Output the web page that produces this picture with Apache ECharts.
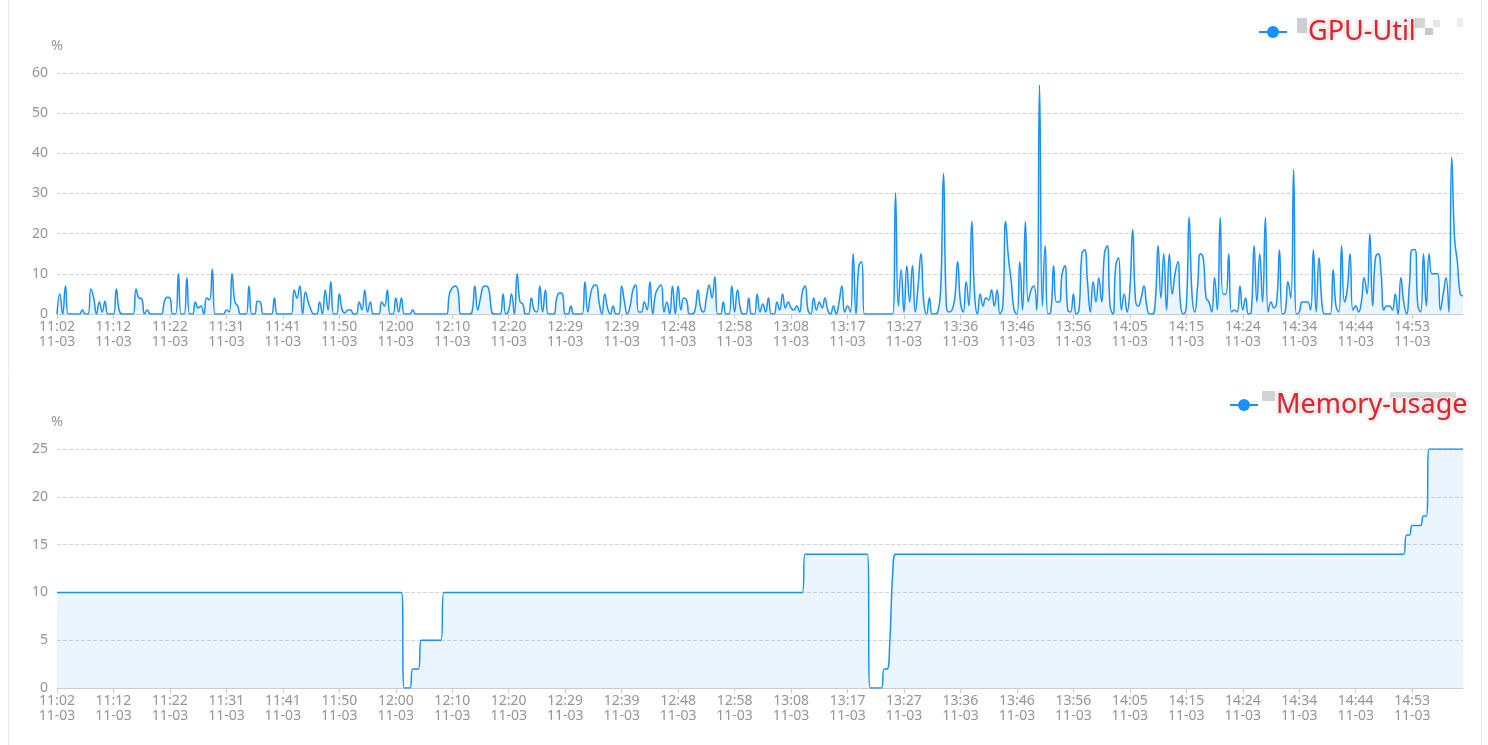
<!DOCTYPE html>
<html><head><meta charset="utf-8">
<script src="https://cdn.jsdelivr.net/npm/echarts@6/dist/echarts.min.js"></script>
<style>html,body{margin:0;padding:0;background:#fff}#c{width:1488px;height:745px}</style>
</head><body><div id="c"></div>
<script>
// ---- data ----
const tickLabels = ['11:02','11:12','11:22','11:31','11:41','11:50','12:00','12:10','12:20','12:29','12:39','12:48','12:58','13:08','13:17','13:27','13:36','13:46','13:56','14:05','14:15','14:24','14:34','14:44','14:53'];
const tickDate = '11-03';
const pointsPerTick = 20;

const gpuUtil = [
0,5,0,7,0,0,0,0,0,1,
0,0,6.2,4,0,3,0.5,3.2,0,0,
0,6.2,1,0,0,0,0,0,6.2,4,
3.8,0,1,0,0,0,0,0,3,4.2,
4,0,0,10,0,0,9,0,0,3,
1.5,2,0,4,3.5,11.2,0,0,0,0,
1,0.5,10,3,2,0,0,0,7,0,
0,3.2,3,0,0,0,0,4,0,0,
0,0,0,0,6,4,7,0,5.5,3,
1,0,0,3,0,6,1,8,0,0,
5,1,0.3,1,1,0,0,3,1,6,
0.5,3,0,0,0,3,2,6,0,0,
4,0.5,4,0,0,0,1,0,0,0,
0,0,0,0,0,0,0,0,0,5,
6.5,7,6,0,0,0,0,0.5,7,1,
4,6.8,7,6,0.5,0,0,0,5,0,
1,5,0,10,3,2.5,0,0,4,1,
0.5,7,0.5,6,0,0,0,4,5.2,5,
0,0,2,0,0,0,0,8,0.5,5,
7,7.2,3,0,5,1.5,0,2,0,0,
7,3,0,2,6,7.2,0.5,0.5,3,1,
8,0,5,6.5,7.2,0.5,3,0,7,0,
7,1,4,3.5,0,0,1,6,1.5,0.5,
4,7.2,4,9.3,0,0,3,0,0,7,
0.5,6,1.5,0,0,4,0,0,5,0.5,
2.5,0.5,4,0,0,3,1,5,1.5,3,
1.5,1,2,0.5,5.5,7,1,0,4,1,
3,1.5,4,1,0,2,0,3,7,0.5,
2,0.5,15,0,12,13,0,0,0,0,
0,0,0,0,0,0,0,30.2,2,11,
0.5,12,3,12,0.5,7,15,3,0,4,
0,0,0.5,6,35,2,0.5,1,4,13,
3,0.5,8,2,23,5,0,5,2,4,
3.5,6,2,6,0,2,23,14,8,1,
0,13,1,23,3,6,7,1,57,2,
17,0,0.5,12,3,3,10,12,1,0.5,
5,0,1,15,16,8,0.5,8,3,9,
3,15,17,2,0,12,14,1,5,0.5,
6,21,3.5,2,4,7,2,0,0,3,
17,4,15,1,15,5,10,13,2,0,
2,24,5,0.5,7,15,14,4,3,0.5,
9,1,24,5,5,15,0.5,1,0.5,7,
1,4,0,0.5,17,3,15,3,24,0.5,
3,1.5,3,16,0,0.5,8,4,36,0,
0.5,3,3,3,1,16,0.5,14,3,0,
0,0,11,2,0.5,17,3,6,15,1,
2,0.5,3,9,5,20,2,14,15,10,
1,2,2,1,5,0,9,3,0,7,
16,16,2,0.5,15,2,15,10,10,10,
1,5,9,0.5,39,19,13,5,4.5
];

const memoryUsage = [
10,10,10,10,10,10,10,10,10,10,10,10,10,10,10,10,10,10,10,10,
10,10,10,10,10,10,10,10,10,10,10,10,10,10,10,10,10,10,10,10,
10,10,10,10,10,10,10,10,10,10,10,10,10,10,10,10,10,10,10,10,
10,10,10,10,10,10,10,10,10,10,10,10,10,10,10,10,10,10,10,10,
10,10,10,10,10,10,10,10,10,10,10,10,10,10,10,10,10,10,10,10,
10,10,10,10,10,10,10,10,10,10,10,10,10,10,10,10,10,10,10,10,
10,10,10,0,0,0,2,2,2,5,5,5,5,5,5,5,5,10,10,10,
10,10,10,10,10,10,10,10,10,10,10,10,10,10,10,10,10,10,10,10,
10,10,10,10,10,10,10,10,10,10,10,10,10,10,10,10,10,10,10,10,
10,10,10,10,10,10,10,10,10,10,10,10,10,10,10,10,10,10,10,10,
10,10,10,10,10,10,10,10,10,10,10,10,10,10,10,10,10,10,10,10,
10,10,10,10,10,10,10,10,10,10,10,10,10,10,10,10,10,10,10,10,
10,10,10,10,10,10,10,10,10,10,10,10,10,10,10,10,10,10,10,10,
10,10,10,10,10,14,14,14,14,14,14,14,14,14,14,14,14,14,14,14,
14,14,14,14,14,14,14,14,0,0,0,0,0,2,2,5,12,14,14,14,
14,14,14,14,14,14,14,14,14,14,14,14,14,14,14,14,14,14,14,14,
14,14,14,14,14,14,14,14,14,14,14,14,14,14,14,14,14,14,14,14,
14,14,14,14,14,14,14,14,14,14,14,14,14,14,14,14,14,14,14,14,
14,14,14,14,14,14,14,14,14,14,14,14,14,14,14,14,14,14,14,14,
14,14,14,14,14,14,14,14,14,14,14,14,14,14,14,14,14,14,14,14,
14,14,14,14,14,14,14,14,14,14,14,14,14,14,14,14,14,14,14,14,
14,14,14,14,14,14,14,14,14,14,14,14,14,14,14,14,14,14,14,14,
14,14,14,14,14,14,14,14,14,14,14,14,14,14,14,14,14,14,14,14,
14,14,14,14,14,14,14,14,14,14,14,14,14,14,14,14,14,14,16,16,
17,17,17,17,18,18,25,25,25,25,25,25,25,25,25,25,25,25,25
];

const categories = gpuUtil.map((_, i) =>
  i % pointsPerTick === 0 ? tickLabels[i / pointsPerTick] + '\n' + tickDate : 'p' + i);

// ---- chart ----
const FONT = 'Noto Sans';
const LINE = '#1890ff';
const AREA = 'rgba(24,144,255,0.12)';
const labelColor = '#959595';

function makeX(gi) {
  return {
    type: 'category', gridIndex: gi, data: categories, boundaryGap: false,
    axisLine: { lineStyle: { color: '#ccc' } },
    axisTick: { interval: pointsPerTick - 1, length: 5, lineStyle: { color: '#ccc' } },
    axisLabel: { interval: pointsPerTick - 1, color: labelColor, fontSize: 14, lineHeight: 14.5, margin: 6, fontFamily: FONT }
  };
}
function makeY(gi, max, step) {
  return {
    type: 'value', gridIndex: gi, min: 0, max: max, interval: step,
    name: '%', nameGap: 20,
    nameTextStyle: { color: labelColor, fontSize: 14, fontFamily: FONT },
    axisLine: { show: false }, axisTick: { show: false },
    axisLabel: { color: labelColor, fontSize: 14, margin: 9, fontFamily: FONT },
    splitLine: { lineStyle: { type: 'dashed', color: '#d6d6d6' } }
  };
}
function legendText(pad) {
  return {
    color: '#e8212b', fontSize: 27, fontFamily: FONT,
    textBorderColor: '#fff', textBorderWidth: 3,
    textShadowColor: 'rgba(0,0,0,0.25)', textShadowBlur: 2,
    padding: [0, 0, 0, pad]
  };
}
function makeSeries(name, data, ai) {
  return {
    name: name, type: 'line', xAxisIndex: ai, yAxisIndex: ai, data: data,
    smooth: true, symbol: 'circle', symbolSize: 8, showSymbol: false,
    lineStyle: { width: 1.5, color: LINE }, itemStyle: { color: LINE },
    areaStyle: { color: AREA }
  };
}

const chart = echarts.init(document.getElementById('c'));
chart.setOption({
  animation: false,
  grid: [
    { left: 57, right: 25, top: 73, height: 241 },
    { left: 57, right: 25, top: 449, height: 239 }
  ],
  legend: [
    { data: ['GPU-Util'], left: 1253, top: 12, itemWidth: 28, itemHeight: 15, textStyle: legendText(16) },
    { data: ['Memory-usage'], left: 1224, top: 385, itemWidth: 28, itemHeight: 15, textStyle: legendText(13) }
  ],
  xAxis: [makeX(0), makeX(1)],
  yAxis: [makeY(0, 60, 10), makeY(1, 25, 5)],
  series: [makeSeries('GPU-Util', gpuUtil, 0), makeSeries('Memory-usage', memoryUsage, 1)],
  graphic: [
    { type: 'line', z: 0, shape: { x1: 8.5, y1: 0, x2: 8.5, y2: 745 }, style: { stroke: '#e3ebf3', lineWidth: 1 } },
    { type: 'line', z: 0, shape: { x1: 1481.5, y1: 0, x2: 1481.5, y2: 745 }, style: { stroke: '#e3ebf3', lineWidth: 1 } },
    { type: 'rect', z: 0, shape: { x: 1297, y: 18, width: 10, height: 15 }, style: { fill: '#cfcfcf' } },
    { type: 'rect', z: 0, shape: { x: 1413, y: 18, width: 12, height: 10 }, style: { fill: '#d6d6d6' } },
    { type: 'rect', z: 0, shape: { x: 1425, y: 28, width: 8, height: 7 }, style: { fill: '#c8c8c8' } },
    { type: 'rect', z: 0, shape: { x: 1433, y: 20, width: 7, height: 7 }, style: { fill: '#e6e6e6' } },
    { type: 'rect', z: 0, shape: { x: 1457, y: 18, width: 6, height: 9 }, style: { fill: '#ececec' } },
    { type: 'rect', z: 0, shape: { x: 1262, y: 391, width: 13, height: 10 }, style: { fill: '#d2d2d2' } },
    { type: 'rect', z: 0, shape: { x: 1390, y: 392, width: 66, height: 6 }, style: { fill: '#dedede' } }
  ]
});
</script>
</body></html>
